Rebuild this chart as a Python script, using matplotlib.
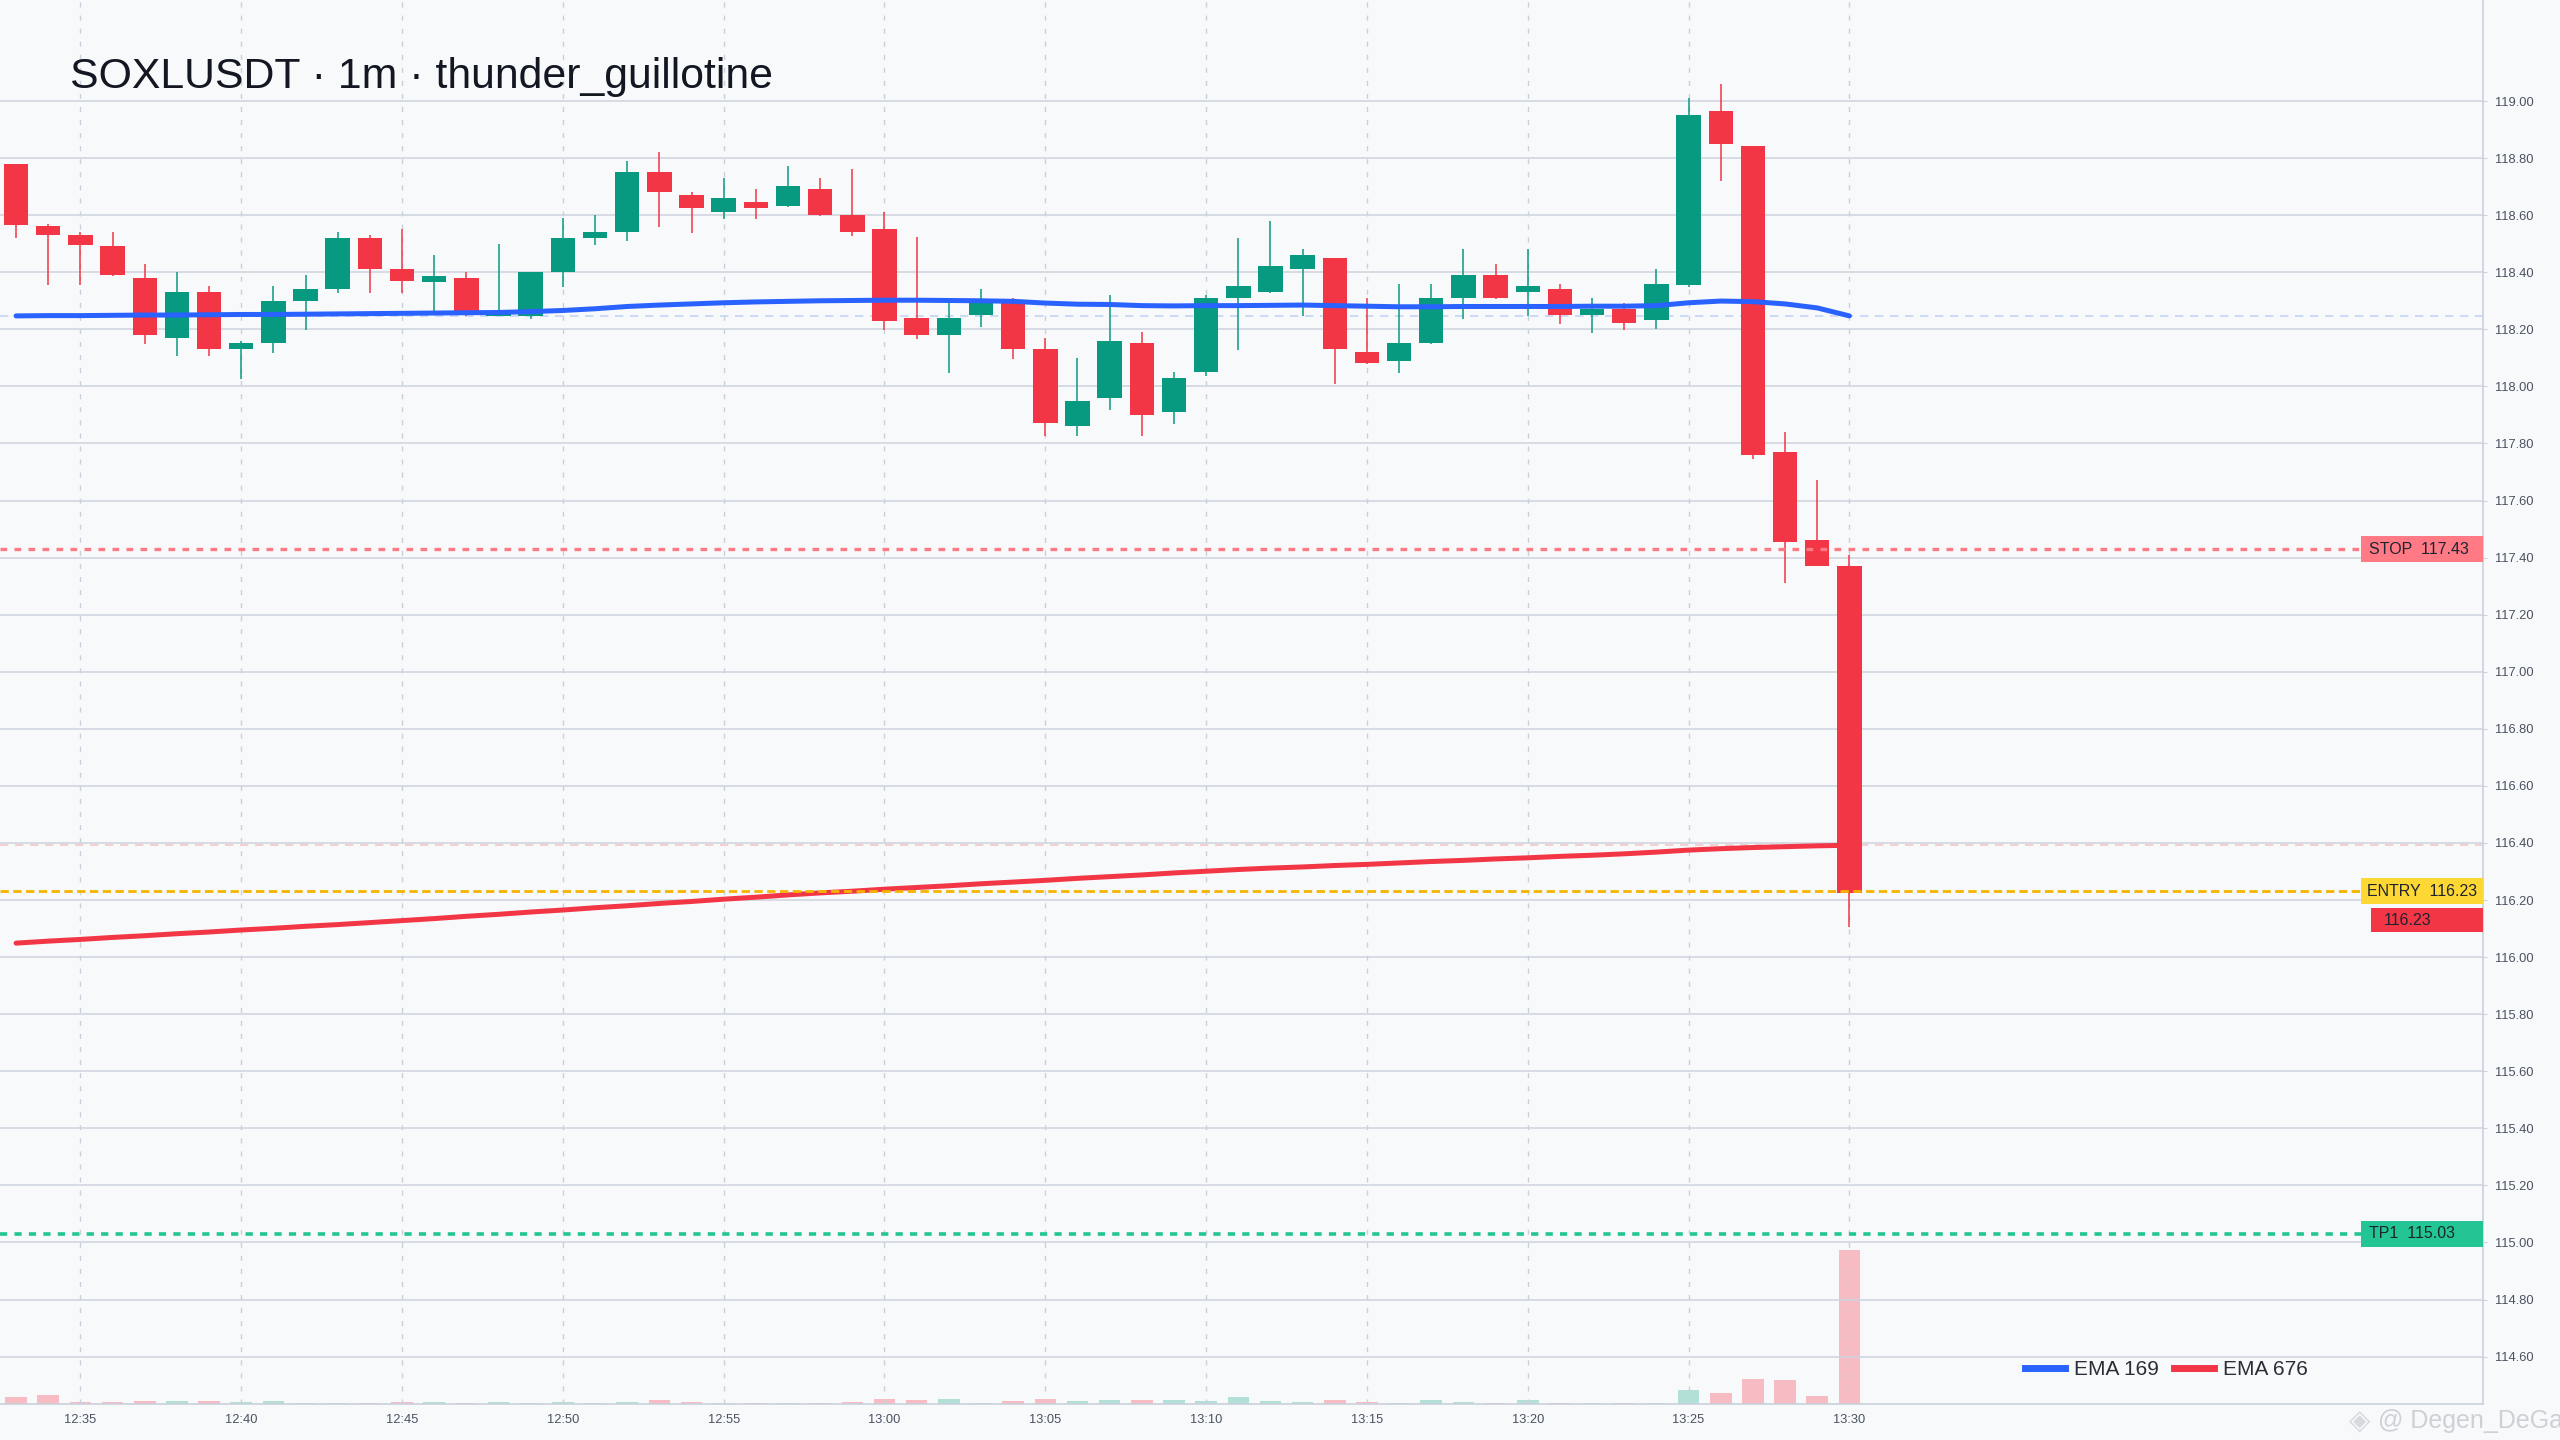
import matplotlib
matplotlib.use('Agg')
import matplotlib.pyplot as plt
import matplotlib.transforms as mtransforms
from matplotlib.patches import Rectangle
from matplotlib.lines import Line2D
from matplotlib.ticker import FormatStrFormatter
import pandas as pd

plt.rcParams['font.family'] = ['Liberation Sans', 'DejaVu Sans']

# ---------------- data ----------------
title_text = 'SOXLUSDT · 1m · thunder_guillotine'
times = pd.date_range('2024-01-01 12:33', periods=58, freq='1min')

opens = [118.780, 118.563, 118.531, 118.492, 118.380, 118.170, 118.331, 118.131, 118.151, 118.300,
         118.341, 118.520, 118.411, 118.366, 118.380, 118.247, 118.247, 118.400, 118.520, 118.542,
         118.753, 118.672, 118.612, 118.647, 118.633, 118.693, 118.600, 118.552, 118.240, 118.180,
         118.250, 118.295, 118.131, 117.860, 117.959, 118.152, 117.910, 118.050, 118.310, 118.331,
         118.412, 118.450, 118.120, 118.089, 118.152, 118.310, 118.390, 118.331, 118.342, 118.250,
         118.271, 118.231, 118.354, 118.964, 118.843, 117.771, 117.463, 117.370]
highs = [118.780, 118.570, 118.540, 118.542, 118.430, 118.400, 118.352, 118.159, 118.352, 118.390,
         118.542, 118.531, 118.552, 118.461, 118.400, 118.500, 118.400, 118.591, 118.600, 118.790,
         118.823, 118.681, 118.730, 118.693, 118.774, 118.730, 118.763, 118.612, 118.522, 118.295,
         118.342, 118.310, 118.170, 118.099, 118.320, 118.191, 118.050, 118.320, 118.520, 118.580,
         118.482, 118.450, 118.310, 118.359, 118.359, 118.482, 118.429, 118.482, 118.359, 118.310,
         118.292, 118.413, 119.012, 119.061, 118.843, 117.840, 117.673, 117.410]
lows = [118.520, 118.356, 118.356, 118.388, 118.148, 118.107, 118.107, 118.025, 118.116, 118.198,
        118.327, 118.327, 118.327, 118.265, 118.247, 118.247, 118.237, 118.348, 118.497, 118.508,
        118.560, 118.538, 118.587, 118.587, 118.630, 118.598, 118.528, 118.196, 118.166, 118.047,
        118.208, 118.096, 117.826, 117.826, 117.917, 117.826, 117.868, 118.036, 118.127, 118.327,
        118.247, 118.008, 118.080, 118.047, 118.148, 118.236, 118.305, 118.247, 118.219, 118.187,
        118.198, 118.200, 118.350, 118.718, 117.747, 117.310, 117.370, 116.105]
closes = [118.565, 118.531, 118.494, 118.390, 118.180, 118.331, 118.131, 118.151, 118.300, 118.341,
          118.520, 118.411, 118.369, 118.387, 118.265, 118.257, 118.400, 118.520, 118.542, 118.753,
          118.682, 118.624, 118.661, 118.626, 118.703, 118.600, 118.542, 118.229, 118.180, 118.240,
          118.295, 118.131, 117.871, 117.948, 118.159, 117.900, 118.029, 118.310, 118.352, 118.422,
          118.461, 118.131, 118.082, 118.152, 118.310, 118.390, 118.310, 118.352, 118.250, 118.271,
          118.222, 118.360, 118.952, 118.850, 117.761, 117.453, 117.372, 116.225]
volumes = [700, 900, 200, 200, 300, 300, 300, 200, 300, 100,
           100, 100, 200, 200, 100, 200, 100, 200, 100, 200,
           400, 200, 50, 100, 100, 100, 200, 500, 400, 500,
           100, 300, 500, 300, 400, 400, 400, 300, 700, 300,
           200, 400, 200, 100, 400, 200, 100, 400, 100, 100,
           100, 100, 1400, 1100, 2500, 2400, 800, 15400]
ema169 = [118.247, 118.248, 118.248, 118.249, 118.250, 118.250, 118.251, 118.252, 118.252, 118.253,
          118.254, 118.255, 118.256, 118.257, 118.258, 118.259, 118.262, 118.266, 118.272, 118.280,
          118.285, 118.289, 118.293, 118.296, 118.298, 118.300, 118.301, 118.302, 118.302, 118.301,
          118.300, 118.298, 118.292, 118.288, 118.287, 118.283, 118.282, 118.283, 118.283, 118.284,
          118.285, 118.283, 118.281, 118.279, 118.279, 118.280, 118.280, 118.280, 118.280, 118.281,
          118.281, 118.283, 118.293, 118.299, 118.297, 118.289, 118.275, 118.247]
ema676 = [116.049, 116.056, 116.062, 116.069, 116.075, 116.082, 116.088, 116.095, 116.101, 116.108,
          116.114, 116.121, 116.128, 116.135, 116.143, 116.150, 116.158, 116.165, 116.173, 116.180,
          116.188, 116.195, 116.203, 116.210, 116.218, 116.225, 116.231, 116.238, 116.244, 116.250,
          116.257, 116.263, 116.269, 116.276, 116.282, 116.288, 116.295, 116.301, 116.307, 116.312,
          116.316, 116.321, 116.325, 116.330, 116.335, 116.339, 116.344, 116.348, 116.353, 116.357,
          116.362, 116.368, 116.375, 116.380, 116.384, 116.387, 116.390, 116.392]
stop_price = 117.43
entry_price = 116.23
tp1_price = 115.03
last_price = 116.23
price_ticks = [114.6, 114.8, 115.0, 115.2, 115.4, 115.6, 115.8, 116.0, 116.2, 116.4, 116.6,
               116.8, 117.0, 117.2, 117.4, 117.6, 117.8, 118.0, 118.2, 118.4, 118.6, 118.8, 119.0]
legend_labels = ['EMA 169', 'EMA 676']
watermark = '@ Degen_DeGa'

# ---------------- style ----------------
BG = '#f8f9fb'
RED = '#f23645'
GREEN = '#089981'
BLUE = '#2962ff'
GRID = '#cdd4de'
TXT = '#4a5261'

W, H = 2560, 1440
AX_R, AX_B = 2483, 1404
fig = plt.figure(figsize=(W / 100, H / 100), dpi=100, facecolor=BG)
rect = [0, 1 - AX_B / H, AX_R / W, AX_B / H]
ax_vol = fig.add_axes(rect)
ax = fig.add_axes(rect)
ax.patch.set_visible(False)
ax_vol.set_facecolor(BG)

x = list(range(len(times)))
xlim = (-0.5, 76.7)
ylim = (114.434, 119.354)

# volume
vcols = ['#b2e0d6' if c >= o else '#f7bcc3' for o, c in zip(opens, closes)]
ax_vol.bar(x, volumes, width=0.67, color=vcols, linewidth=0)
ax_vol.set_xlim(*xlim)
ax_vol.set_ylim(0, max(volumes) / 0.1097)
ax_vol.axis('off')

# candles
ccols = [GREEN if c >= o else RED for o, c in zip(opens, closes)]
ax.vlines(x, lows, highs, colors=ccols, linewidth=1.1, zorder=2)
bottoms = [min(o, c) for o, c in zip(opens, closes)]
heights = [max(abs(c - o), 0.004) for o, c in zip(opens, closes)]
ax.bar(x, heights, bottom=bottoms, width=0.76, color=ccols, linewidth=0, zorder=3)

# last-value faint lines
ax.axhline(ema169[-1], color='#c6d4f2', lw=1.2, ls=(0, (5, 4)), zorder=1)
ax.axhline(ema676[-1], color='#f5c6cc', lw=1.2, ls=(0, (5, 4)), zorder=1)

# EMAs
ax.plot(x, ema169, color=BLUE, lw=3.6, zorder=4, solid_capstyle='round')
ax.plot(x, ema676, color=RED, lw=3.6, zorder=4, solid_capstyle='round')

# trade levels
ax.axhline(stop_price, color='#ff7a85', lw=2.4, ls=(0, (2, 2.2)), zorder=5)
ax.axhline(entry_price, color='#f5b400', lw=2.0, ls=(0, (3, 1.6)), zorder=5)
ax.axhline(tp1_price, color='#22c593', lw=2.6, ls=(0, (2, 2)), zorder=5)

# level labels at right edge
bt = mtransforms.blended_transform_factory(ax.transAxes, ax.transData)
px = (ylim[1] - ylim[0]) / AX_B  # price per pixel


def level_label(price, text, fc, x0, txt_x, h_px=26, dy_px=0):
    tr = mtransforms.offset_copy(bt, fig=fig, x=0, y=-dy_px, units='dots')
    ax.add_patch(Rectangle((x0 / AX_R, price - h_px / 2 * px), 1 - x0 / AX_R, h_px * px,
                           transform=tr, facecolor=fc, edgecolor='none', zorder=7,
                           clip_on=False))
    ax.text(txt_x / AX_R, price, text, transform=tr, ha='left', va='center',
            fontsize=11.5, color='#1e2330', zorder=8)


level_label(stop_price, f'STOP  {stop_price:.2f}', '#ff7a85', 2361, 2369)
level_label(entry_price, f'ENTRY  {entry_price:.2f}', '#fdd835', 2361, 2367)
level_label(last_price, f'{last_price:.2f}', RED, 2371, 2384, h_px=24, dy_px=29)
level_label(tp1_price, f'TP1  {tp1_price:.2f}', '#22c593', 2361, 2369)

# axes
ax.set_xlim(*xlim)
ax.set_ylim(*ylim)
ax.yaxis.tick_right()
ax.set_yticks(price_ticks)
ax.yaxis.set_major_formatter(FormatStrFormatter('%.2f'))
ax.tick_params(axis='y', labelsize=9.3, colors='#c9d1dc', labelcolor=TXT, length=3, pad=6)
tick_idx = [i for i, t in enumerate(times) if t.minute % 5 == 0]
ax.set_xticks(tick_idx)
ax.set_xticklabels([times[i].strftime('%H:%M') for i in tick_idx])
ax.tick_params(axis='x', labelsize=9.3, labelcolor=TXT, length=0, pad=7)
ax.grid(axis='y', color=GRID, lw=1.1, ls='-', zorder=0)
ax.grid(axis='x', color='#c8d0db', lw=1.0, ls=(0, (3.6, 5.8)), zorder=0)
ax.set_axisbelow(True)
for s in ['top', 'left']:
    ax.spines[s].set_visible(False)
for s in ['right', 'bottom']:
    ax.spines[s].set_color('#c9d1dc')
    ax.spines[s].set_linewidth(1.2)

# title
fig.text(70 / W, 1 - 88 / H, title_text, fontsize=30.8, color='#131722',
         ha='left', va='baseline')

# legend
handles = [Line2D([], [], color=BLUE, lw=5), Line2D([], [], color=RED, lw=5)]
ax.legend(handles, legend_labels, loc='lower left',
          bbox_to_anchor=(2025 / AX_R, (AX_B - 1379) / AX_B), ncol=2, frameon=False,
          fontsize=15, handlelength=1.9, handletextpad=0.45, columnspacing=0.75,
          borderpad=0, borderaxespad=0, labelcolor='#2a2e39')

# watermark
fig.text(2349 / W, 1 - 1429 / H, '\u25c8', fontsize=20, color='#d6d9de',
         ha='left', va='baseline', family='DejaVu Sans')
fig.text(2378 / W, 1 - 1428 / H, watermark, fontsize=18, color='#cdd1d6',
         ha='left', va='baseline')

fig.savefig('out.png', dpi=100, facecolor=BG)
